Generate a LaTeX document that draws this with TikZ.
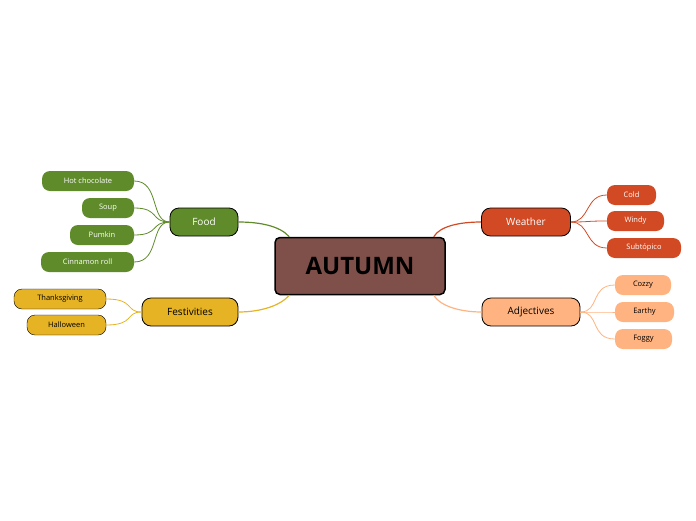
\documentclass[tikz,border=0pt]{standalone}
\usepackage{fontspec}
\setmainfont{Open Sans}
\usetikzlibrary{positioning}
\definecolor{autumnbrown}{HTML}{7F4F4A}
\definecolor{foodgreen}{HTML}{5F8B2A}
\definecolor{festyellow}{HTML}{E6B325}
\definecolor{weatherred}{HTML}{D24A24}
\definecolor{adjpeach}{HTML}{FFB380}
\tikzset{
  main/.style={draw, rounded corners=5pt, line width=1.5pt, fill=autumnbrown, minimum width=170pt, minimum height=57pt, font=\fontsize{24}{26}\selectfont\bfseries},
  topic/.style={draw, line width=0.8pt, rounded corners=9pt, minimum height=28pt, font=\fontsize{10}{12}\selectfont},
  leaf/.style={rounded corners=8pt, minimum height=20pt, inner sep=0pt, font=\fontsize{7.5}{9}\selectfont}
}
\begin{document}
\begin{tikzpicture}[x=1pt, y=-1pt]
\useasboundingbox (0,0) rectangle (696,520);
% centre and topics
\node[main] (autumn) at (360,266) {AUTUMN};
\node[topic, fill=foodgreen, text=white, minimum width=68pt] (food) at (204,222) {Food};
\node[topic, fill=festyellow, minimum width=96pt] (fest) at (190,312) {Festivities};
\node[topic, fill=weatherred, text=white, minimum width=89pt] (weather) at (526,222) {Weather};
\node[topic, fill=adjpeach, minimum width=98pt] (adj) at (531,312) {Adjectives};
% leaves
\node[leaf, fill=foodgreen, text=white, minimum width=92pt] (hot) at (88,181) {Hot chocolate};
\node[leaf, fill=foodgreen, text=white, minimum width=52pt] (soup) at (108,208) {Soup};
\node[leaf, fill=foodgreen, text=white, minimum width=64pt] (pumkin) at (102,235) {Pumkin};
\node[leaf, fill=foodgreen, text=white, minimum width=93pt] (cinnamon) at (87.5,262) {Cinnamon roll};
\node[leaf, draw, fill=festyellow, minimum width=92pt] (thanks) at (60,299) {Thanksgiving};
\node[leaf, draw, fill=festyellow, minimum width=79pt] (hallo) at (66.5,325) {Halloween};
\node[leaf, fill=weatherred, text=white, minimum width=49pt] (cold) at (631.5,195) {Cold};
\node[leaf, fill=weatherred, text=white, minimum width=57pt] (windy) at (635.5,221) {Windy};
\node[leaf, fill=weatherred, text=white, minimum width=74pt] (sub) at (644,248) {Subtópico};
\node[leaf, fill=adjpeach, minimum width=56pt] (cozzy) at (643,285) {Cozzy};
\node[leaf, fill=adjpeach, minimum width=59pt] (earthy) at (644.5,312) {Earthy};
\node[leaf, fill=adjpeach, minimum width=57pt] (foggy) at (643.5,339) {Foggy};
% connectors
\path (autumn.north west) ++(15,0) coordinate (a1);
\path (autumn.south west) ++(15,0) coordinate (a2);
\path (autumn.north east) ++(-12,0) coordinate (a3);
\path (autumn.south east) ++(-12,0) coordinate (a4);
\begin{scope}[on background layer/.try]
\draw[foodgreen, line width=1.2pt] (a1) .. controls (280,226) and (260,222) .. (food.east);
\draw[festyellow, line width=1.2pt] (a2) .. controls (280,306) and (260,312) .. (fest.east);
\draw[weatherred, line width=1.2pt] (a3) .. controls (440,226) and (460,222) .. (weather.west);
\draw[adjpeach, line width=1.2pt] (a4) .. controls (440,306) and (460,312) .. (adj.west);
\end{scope}
\foreach \leafnode in {hot,soup,pumkin,cinnamon}
  \draw[foodgreen, line width=0.8pt] (food.west) .. controls (150,222) and (160,0|-\leafnode.east) .. (\leafnode.east);
\foreach \leafnode in {thanks,hallo}
  \draw[festyellow, line width=0.8pt] (fest.west) .. controls (125,312) and (135,0|-\leafnode.east) .. (\leafnode.east);
\foreach \leafnode in {cold,windy,sub}
  \draw[weatherred, line width=0.8pt] (weather.east) .. controls (590,222) and (585,0|-\leafnode.west) .. (\leafnode.west);
\foreach \leafnode in {cozzy,earthy,foggy}
  \draw[adjpeach, line width=0.8pt] (adj.east) .. controls (600,312) and (590,0|-\leafnode.west) .. (\leafnode.west);
\end{tikzpicture}
\end{document}
